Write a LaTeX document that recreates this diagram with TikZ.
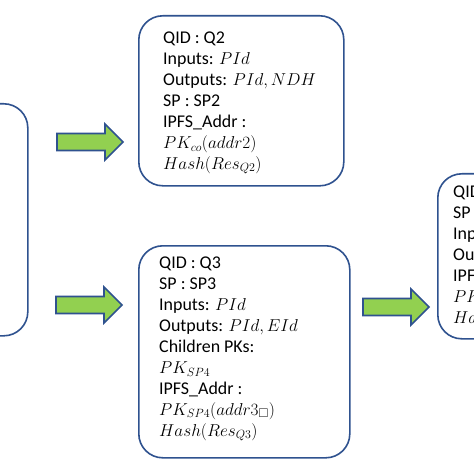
\documentclass[tikz,border=0pt]{standalone}
\usepackage{amsmath}
\usepackage{amssymb}
\usepackage{fontspec}
\setmainfont{Carlito}
\usepackage{tikz}
\usepackage{xcolor}
\usetikzlibrary{positioning}

\definecolor{boxblue}{RGB}{47,82,143}
\definecolor{arrowgreen}{RGB}{146,208,80}

% block arrow: #1,#2 = left end of shaft, middle
\newcommand{\blockarrow}[2]{%
  \draw [arr] (#1,#2-8.5) -- (#1+48,#2-8.5) -- (#1+48,#2-18) -- (#1+66,#2)
    -- (#1+48,#2+18) -- (#1+48,#2+8.5) -- (#1,#2+8.5) -- cycle;}

\begin{document}
\begin{tikzpicture}[x=1bp,y=-1bp]
\tikzstyle{qbox}=[draw=boxblue, line width=1.6bp, rounded corners=24bp, fill=white,
  anchor=north west, inner sep=0pt]
\tikzstyle{qtext}=[align=left, anchor=north west, inner sep=0pt,
  font=\fontsize{18}{21}\selectfont]
\tikzstyle{arr}=[draw=boxblue, line width=1.6bp, fill=arrowgreen, line join=miter]
\clip (0,0) rectangle (474,474);
\fill [white] (0,0) rectangle (474,474);
% left query (cut off)
\node [qbox, minimum width=227bp, minimum height=232bp] (q1) at (-200,103) {};
% Q2
\node [qbox, minimum width=205bp, minimum height=170bp] (q2) at (138,15) {};
\node [qtext] (q2txt) at ([xshift=25bp, yshift=-17bp]q2.north west) {%
QID : Q2\\
Inputs: $PId$\\
Outputs: $PId, NDH$\\
SP : SP2\\
IPFS\_Addr :\\
$PK_{co}(addr2)$\\
$Hash(Res_{Q2})$};
% Q3
\node [qbox, minimum width=211bp, minimum height=212bp] (q3) at (138,245) {};
\node [qtext] (q3txt) at ([xshift=21bp, yshift=-12bp]q3.north west) {%
QID : Q3\\
SP : SP3\\
Inputs: $PId$\\
Outputs: $PId, EId$\\
Children PKs:\\
$PK_{SP4}$\\
IPFS\_Addr :\\
$PK_{SP4}(addr3_{\square})$\\
$Hash(Res_{Q3})$};
% right query (cut off)
\node [qbox, minimum width=200bp, minimum height=165bp] (q4) at (437,173) {};
\node [qtext] (q4txt) at ([xshift=16bp, yshift=-13bp]q4.north west) {%
QID : Q4\\
SP : SP4\\
Inputs: $PId$\\
Outputs: $PId$\\
IPFS\_Addr :\\
$PK_{co}(addr4)$\\
$Hash(Res_{Q4})$};
\blockarrow{57}{142}
\blockarrow{56}{305}
\blockarrow{363}{307}
\end{tikzpicture}
\end{document}
